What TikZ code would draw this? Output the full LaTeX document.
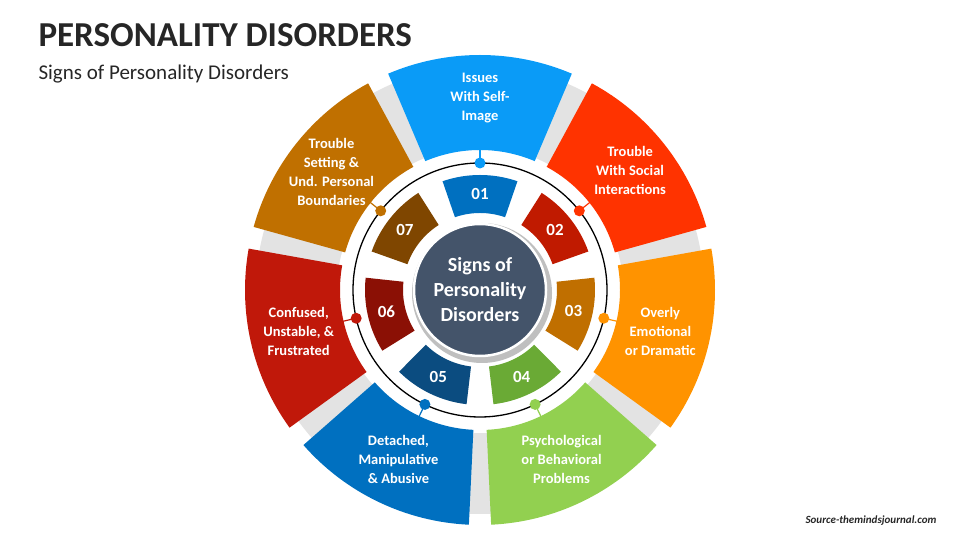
\documentclass[tikz,border=0pt]{standalone}
\usepackage{fontspec}
\setmainfont{Carlito}
\usetikzlibrary{arrows.meta}
\definecolor{o1}{HTML}{0A9BF7}\definecolor{i1}{HTML}{0070C0}
\definecolor{o2}{HTML}{FF3300}\definecolor{i2}{HTML}{C01A00}
\definecolor{o3}{HTML}{FF9300}\definecolor{i3}{HTML}{C06F00}
\definecolor{o4}{HTML}{92D050}\definecolor{i4}{HTML}{6AAA35}
\definecolor{o5}{HTML}{0070C0}\definecolor{i5}{HTML}{0B4C80}
\definecolor{o6}{HTML}{C0180A}\definecolor{i6}{HTML}{8B1005}
\definecolor{o7}{HTML}{C07000}\definecolor{i7}{HTML}{7F4600}
\definecolor{hub}{HTML}{44546A}
\definecolor{ttl}{HTML}{262626}
\tikzset{lbl/.style={text=white,align=center,font=\bfseries\fontsize{14.5}{19}\selectfont},
 num/.style={text=white,font=\bfseries\fontsize{17}{20}\selectfont}}
\begin{document}
\begin{tikzpicture}[x=1pt,y=1pt]
\useasboundingbox (0,0) rectangle (960,540);
\node[anchor=west,text=ttl,font=\bfseries\fontsize{35}{38}\selectfont] (title) at (35,505) {PERSONALITY DISORDERS};
\node[anchor=west,text=ttl,font=\fontsize{21}{24}\selectfont] (sub) at (35,466) {Signs of Personality Disorders};
\node[anchor=east,text=ttl,font=\bfseries\itshape\fontsize{11}{13}\selectfont] (src) at (940,19) {Source-themindsjournal.com};
\begin{scope}[shift={(480,250)}]
\fill[gray!22] circle (224);
\fill[white] circle (143);
\foreach \i/\r/\txt in {1/192/{Issues\\With Self-\\Image},2/192/{Trouble\\With Social\\Interactions},3/185/{Overly\\Emotional\\or Dramatic},4/188/{Psychological\\or Behavioral\\Problems},5/188/{Detached,\\Manipulative\\\& Abusive},6/186/{Confused,\\Unstable, \&\\Frustrated},7/190/{Trouble\\Setting \&\\Und. Personal\\Boundaries}}{
 \pgfmathsetmacro\a{90-(\i-1)*360/7}
 \pgfmathsetmacro\aa{\a+23}\pgfmathsetmacro\ab{\a-23}
 \pgfmathsetmacro\ba{\a+19}\pgfmathsetmacro\bb{\a-19}
 \fill[o\i] (\aa:140) arc[start angle=\aa,end angle=\ab,radius=140] -- (\ab:235) arc[start angle=\ab,end angle=\aa,radius=235] -- cycle;
 \node[lbl] (t\i) at (\a:\r) {\txt};
 \fill[i\i] (\ba:77) arc[start angle=\ba,end angle=\bb,radius=77] -- (\bb:115) arc[start angle=\bb,end angle=\ba,radius=115] -- cycle;
 \node[num] (n\i) at (\a:96) {0\i};
}
\draw[black,line width=1.3] circle (127);
\foreach \i in {1,...,7}{
 \pgfmathsetmacro\a{90-(\i-1)*360/7}
 \coordinate (d\i) at (\a:127);
 \coordinate (e\i) at (\a:145);
 \draw[o\i,line width=1.2,-{Stealth[length=5pt,width=5pt]}] (d\i) -- (e\i);
 \fill[o\i] (d\i) circle (5.5);
}
\fill[black!25] (2,-3) circle (70);
\fill[hub] (0,0) circle (66);
\draw[white,line width=2.5] (0,0) circle (66);
\node[text=white,align=center,font=\bfseries\fontsize{20}{25}\selectfont] (hubt) at (0,0) {Signs of\\Personality\\Disorders};
\end{scope}
\end{tikzpicture}
\end{document}
